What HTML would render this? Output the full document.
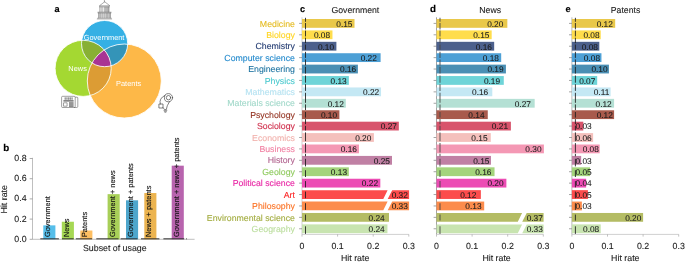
<!DOCTYPE html>
<html><head><meta charset="utf-8"><title>Figure</title>
<style>
html,body{margin:0;padding:0;background:#fff;}
body{width:685px;height:262px;overflow:hidden;}
svg{display:block;font-family:"Liberation Sans",sans-serif;}
.cat{font-size:8.75px;text-anchor:end;}
text{stroke-width:0.1px;paint-order:stroke;text-rendering:geometricPrecision;}
.k{stroke:#1a1a1a;}
.val{font-size:8.3px;stroke:#1a1a1a;stroke-width:0.08px;fill:#1a1a1a;}
.tick{font-size:8.8px;stroke:#1a1a1a;fill:#1a1a1a;text-anchor:middle;}
.ttl{font-size:8.7px;stroke:#1a1a1a;fill:#1a1a1a;text-anchor:middle;}
.pl{font-size:9.2px;font-weight:bold;fill:#000;stroke:#000;stroke-width:0.15px;}
.vn{font-size:7.4px;stroke:none;fill:#fff;text-anchor:middle;}
.rb{font-size:7.45px;fill:#111;stroke:#111;stroke-width:0.12px;}
</style></head><body>
<svg width="685" height="262" viewBox="0 0 685 262">
<rect width="685" height="262" fill="#fff"/>

<text class="pl" x="54.6" y="12.1">a</text>
<defs>
<clipPath id="cg"><circle cx="104.6" cy="43.6" r="23.1"/></clipPath>
<clipPath id="cn"><circle cx="83.15" cy="68.35" r="28.05"/></clipPath>
<clipPath id="cp"><circle cx="124.3" cy="81.0" r="37.0"/></clipPath>
</defs>
<circle cx="124.3" cy="81.0" r="37.0" fill="#fdb848"/>
<circle cx="83.15" cy="68.35" r="28.05" fill="#a4d832"/>
<circle cx="104.6" cy="43.6" r="23.1" fill="#35b0e4"/>
<g clip-path="url(#cg)"><circle cx="83.15" cy="68.35" r="28.05" fill="#88b034"/></g>
<g clip-path="url(#cg)"><circle cx="124.3" cy="81.0" r="37.0" fill="#3494b8"/></g>
<g clip-path="url(#cn)"><circle cx="124.3" cy="81.0" r="37.0" fill="#dc9c34"/></g>
<g clip-path="url(#cg)"><g clip-path="url(#cn)"><circle cx="124.3" cy="81.0" r="37.0" fill="#a83494"/></g></g>
<circle cx="124.3" cy="81.0" r="37.0" fill="none" stroke="#fff" stroke-width="0.85"/>
<circle cx="83.15" cy="68.35" r="28.05" fill="none" stroke="#fff" stroke-width="0.85"/>
<circle cx="104.6" cy="43.6" r="23.1" fill="none" stroke="#fff" stroke-width="0.85"/>
<text class="vn" x="104.1" y="40.2">Government</text>
<text class="vn" x="77.6" y="70.7">News</text>
<text class="vn" x="128.6" y="85.5">Patents</text>
<g fill="none" stroke="#5a5a5a" stroke-width="0.5" stroke-linecap="round" stroke-linejoin="round">
<path d="M104.4 0 V2 M104.4 2 L99.4 5.8 H109.5 Z M99.5 6.8 H109.3 M99.8 6.8 V12 M109 6.8 V12 M98 12.2 H111 M98 12.9 H111 M98.5 13 V18 M110.5 13 V18"/>
<path d="M101.2 7.2 V11.8 M102.8 7.2 V11.8 M104.6 7.2 V11.8 M105.6 7.2 V11.8 M106.6 7.2 V11.8 M107.6 7.2 V11.8 M108.4 7.2 V11.8" stroke-width="0.45"/>
<path d="M99.6 13.4 V17.8 M100.6 13.4 V17.8 M101.9 13.4 V17.8 M102.9 13.4 V17.8 M104.2 13.4 V17.8 M105.2 13.4 V17.8 M106.5 13.4 V17.8 M107.5 13.4 V17.8 M108.7 13.4 V17.8 M109.6 13.4 V17.8" stroke-width="0.45"/>
<path d="M97.4 18.3 H111.5" stroke="#777" stroke-width="0.6"/><path d="M97.2 19.2 H111.7" stroke="#aaa" stroke-width="0.6"/>
</g>
<g fill="none" stroke="#555" stroke-width="0.55" stroke-linejoin="round">
<rect x="61.6" y="96.3" width="13.6" height="11.2" rx="1"/>
<path d="M75.2 97.2 H77 Q77.8 97.2 77.8 98 V106.4 Q77.8 107.5 76.6 107.5 H74"/>
<path d="M64.6 98 H73 M64.6 99.1 H73" stroke="#333" stroke-width="0.7" stroke-dasharray="1.3 0.4"/>
<path d="M63.4 100.9 H73.6" stroke-width="1.1" stroke="#444"/>
<rect x="63.5" y="102.8" width="3.6" height="3.4"/>
<path d="M69 102.6 H73.6 M69 103.6 H73.6 M69 104.6 H73.6 M69 105.6 H73.6 M69 106.5 H73.6" stroke-width="0.6" stroke="#444"/>
</g>
<g fill="none" stroke="#4a4a4a" stroke-width="0.7" stroke-linecap="round" stroke-linejoin="round">
<circle cx="168.5" cy="97.7" r="4.1"/><circle cx="168.5" cy="97.7" r="2.2"/>
<path d="M165.0 95.4 Q158.6 98.4 160.3 104"/>
<rect x="159.3" y="104" width="3.7" height="4"/>
<path d="M163 107.6 L164.6 109.6 H166.3 Q166.6 106 169.4 101.8"/>
<path d="M163.9 110.3 H166.9 M164.3 111.3 H166.5 M164.9 112.3 H165.9" stroke-width="0.8" stroke="#777"/>
</g>
<text class="pl" style="font-size:9.8px" x="3.2" y="151.3">b</text>
<path d="M32.5 157.8 V239.3 H194.6" fill="none" stroke="#a4a4a4" stroke-width="0.7"/>
<path d="M29.7 239.30 H32.5" stroke="#888" stroke-width="0.7"/>
<text x="26.6" y="241.80" font-size="8.8" fill="#1a1a1a" stroke="#1a1a1a" text-anchor="end">0.0</text>
<path d="M29.7 219.10 H32.5" stroke="#888" stroke-width="0.7"/>
<text x="26.6" y="221.60" font-size="8.8" fill="#1a1a1a" stroke="#1a1a1a" text-anchor="end">0.2</text>
<path d="M29.7 198.90 H32.5" stroke="#888" stroke-width="0.7"/>
<text x="26.6" y="201.40" font-size="8.8" fill="#1a1a1a" stroke="#1a1a1a" text-anchor="end">0.4</text>
<path d="M29.7 178.70 H32.5" stroke="#888" stroke-width="0.7"/>
<text x="26.6" y="181.20" font-size="8.8" fill="#1a1a1a" stroke="#1a1a1a" text-anchor="end">0.6</text>
<path d="M29.7 158.50 H32.5" stroke="#888" stroke-width="0.7"/>
<text x="26.6" y="161.00" font-size="8.8" fill="#1a1a1a" stroke="#1a1a1a" text-anchor="end">0.8</text>
<rect x="43.3" y="225.36" width="12.1" height="13.94" fill="#56beea"/>
<rect x="61.8" y="221.73" width="12.1" height="17.57" fill="#a6d854"/>
<rect x="80.3" y="230.51" width="12.1" height="8.79" fill="#fdbe62"/>
<rect x="107.6" y="194.15" width="12.1" height="45.15" fill="#a8cf58"/>
<rect x="126.0" y="200.31" width="12.1" height="38.99" fill="#4ea6cc"/>
<rect x="144.3" y="193.04" width="12.1" height="46.26" fill="#ecb450"/>
<rect x="171.7" y="165.67" width="12.1" height="73.63" fill="#b864ae"/>
<path d="M40.3 238.75 H58.9" stroke="#2a2a2a" stroke-width="1.4" opacity="0.68"/>
<path d="M62 238.75 H73.7" stroke="#2a2a2a" stroke-width="1.4" opacity="0.68"/>
<path d="M75.8 238.75 H92.1" stroke="#2a2a2a" stroke-width="1.4" opacity="0.68"/>
<path d="M96.3 238.75 H118.5" stroke="#2a2a2a" stroke-width="1.4" opacity="0.68"/>
<path d="M120.6 238.75 H137.5" stroke="#2a2a2a" stroke-width="1.4" opacity="0.68"/>
<path d="M141 238.75 H159.4" stroke="#2a2a2a" stroke-width="1.4" opacity="0.68"/>
<path d="M163.4 238.75 H184.2" stroke="#2a2a2a" stroke-width="1.4" opacity="0.68"/>
<path d="M186 238.75 H186.7" stroke="#2a2a2a" stroke-width="1.4" opacity="0.68"/>
<text class="rb" transform="translate(50.35 237.1) rotate(-90)">Government</text>
<text class="rb" transform="translate(68.85 237.1) rotate(-90)">News</text>
<text class="rb" transform="translate(87.35 237.1) rotate(-90)">Patents</text>
<text class="rb" transform="translate(114.65 237.1) rotate(-90)">Government + news</text>
<text class="rb" transform="translate(133.05 237.1) rotate(-90)">Government + patents</text>
<text class="rb" transform="translate(151.35 237.1) rotate(-90)">News + patents</text>
<text class="rb" transform="translate(178.75 237.1) rotate(-90)">Government + news + patents</text>
<text transform="translate(7.2 199.3) rotate(-90)" font-size="8.8" fill="#1a1a1a" stroke="#1a1a1a" text-anchor="middle">Hit rate</text>
<text x="114.8" y="250.8" font-size="8.8" fill="#1a1a1a" stroke="#1a1a1a" text-anchor="middle">Subset of usage</text>
<text class="cat" x="294.9" y="26.55" fill="#e4ba1d" stroke="#e4ba1d">Medicine</text>
<text class="cat" x="294.9" y="37.96" fill="#ffd41f" stroke="#ffd41f">Biology</text>
<text class="cat" x="294.9" y="49.37" fill="#1f386f" stroke="#1f386f">Chemistry</text>
<text class="cat" x="294.9" y="60.78" fill="#2088cc" stroke="#2088cc">Computer science</text>
<text class="cat" x="294.9" y="72.19" fill="#1d73a1" stroke="#1d73a1">Engineering</text>
<text class="cat" x="294.9" y="83.60" fill="#4ac9ce" stroke="#4ac9ce">Physics</text>
<text class="cat" x="294.9" y="95.01" fill="#b5e2f1" stroke="#b5e2f1">Mathematics</text>
<text class="cat" x="294.9" y="106.42" fill="#a1d8c9" stroke="#a1d8c9">Materials science</text>
<text class="cat" x="294.9" y="117.83" fill="#92311f" stroke="#92311f">Psychology</text>
<text class="cat" x="294.9" y="129.24" fill="#ce2947" stroke="#ce2947">Sociology</text>
<text class="cat" x="294.9" y="140.65" fill="#f1b0ab" stroke="#f1b0ab">Economics</text>
<text class="cat" x="294.9" y="152.06" fill="#f17ea1" stroke="#f17ea1">Business</text>
<text class="cat" x="294.9" y="163.47" fill="#b0608d" stroke="#b0608d">History</text>
<text class="cat" x="294.9" y="174.88" fill="#8dc95b" stroke="#8dc95b">Geology</text>
<text class="cat" x="294.9" y="186.29" fill="#e71fa1" stroke="#e71fa1">Political science</text>
<text class="cat" x="294.9" y="197.70" fill="#fb1f1f" stroke="#fb1f1f">Art</text>
<text class="cat" x="294.9" y="209.11" fill="#fb6f1f" stroke="#fb6f1f">Philosophy</text>
<text class="cat" x="294.9" y="220.52" fill="#a1ab3d" stroke="#a1ab3d">Environmental science</text>
<text class="cat" x="294.9" y="231.93" fill="#badd9c" stroke="#badd9c">Geography</text>
<text class="pl"  x="299.9" y="12">c</text>
<text class="ttl" x="355.4" y="13">Government</text>
<path d="M302.0 17.3 V234.4" fill="none" stroke="#c4c4c4" stroke-width="0.8"/>
<path d="M302.0 234.4 H408.80" fill="none" stroke="#c4c4c4" stroke-width="0.8"/>
<path d="M302.00 234.4 V236.6" stroke="#999" stroke-width="0.6"/>
<text class="tick" x="302.00" y="248.5">0</text>
<path d="M337.60 234.4 V236.6" stroke="#999" stroke-width="0.6"/>
<text class="tick" x="337.60" y="248.5">0.1</text>
<path d="M373.20 234.4 V236.6" stroke="#999" stroke-width="0.6"/>
<text class="tick" x="373.20" y="248.5">0.2</text>
<path d="M408.80 234.4 V236.6" stroke="#999" stroke-width="0.6"/>
<text class="tick" x="408.80" y="248.5">0.3</text>
<text class="tick" x="355.15" y="261.3">Hit rate</text>
<path d="M299.10 23.40 H302.0" stroke="#666" stroke-width="0.6"/>
<rect x="302.0" y="19.00" width="52.51" height="8.8" fill="#e9c84a"/>
<text class="val" x="352.45" y="26.70" text-anchor="end">0.15</text>
<path d="M299.10 34.81 H302.0" stroke="#666" stroke-width="0.6"/>
<rect x="302.0" y="30.41" width="30.47" height="8.8" fill="#ffdd4c"/>
<text class="val" x="330.10" y="38.11" text-anchor="end">0.08</text>
<path d="M299.10 46.22 H302.0" stroke="#666" stroke-width="0.6"/>
<rect x="302.0" y="41.82" width="34.39" height="8.8" fill="#4c608c"/>
<text class="val" x="334.10" y="49.52" text-anchor="end">0.10</text>
<path d="M299.10 57.63 H302.0" stroke="#666" stroke-width="0.6"/>
<rect x="302.0" y="53.23" width="78.60" height="8.8" fill="#4da0d6"/>
<text class="val" x="376.80" y="60.93" text-anchor="end">0.22</text>
<path d="M299.10 69.04 H302.0" stroke="#666" stroke-width="0.6"/>
<rect x="302.0" y="64.64" width="55.89" height="8.8" fill="#4a8fb4"/>
<text class="val" x="356.20" y="72.34" text-anchor="end">0.16</text>
<path d="M299.10 80.45 H302.0" stroke="#666" stroke-width="0.6"/>
<rect x="302.0" y="76.05" width="46.85" height="8.8" fill="#6ed4d8"/>
<text class="val" x="346.70" y="83.75" text-anchor="end">0.13</text>
<path d="M299.10 91.86 H302.0" stroke="#666" stroke-width="0.6"/>
<rect x="302.0" y="87.46" width="79.03" height="8.8" fill="#c4e8f4"/>
<text class="val" x="379.20" y="95.16" text-anchor="end">0.22</text>
<path d="M299.10 103.27 H302.0" stroke="#666" stroke-width="0.6"/>
<rect x="302.0" y="98.87" width="43.79" height="8.8" fill="#b4e0d4"/>
<text class="val" x="343.80" y="106.57" text-anchor="end">0.12</text>
<path d="M299.10 114.68 H302.0" stroke="#666" stroke-width="0.6"/>
<rect x="302.0" y="110.28" width="37.38" height="8.8" fill="#a85a4c"/>
<text class="val" x="337.10" y="117.98" text-anchor="end">0.10</text>
<path d="M299.10 126.09 H302.0" stroke="#666" stroke-width="0.6"/>
<rect x="302.0" y="121.69" width="96.83" height="8.8" fill="#d8546c"/>
<text class="val" x="396.90" y="129.39" text-anchor="end">0.27</text>
<path d="M299.10 137.50 H302.0" stroke="#666" stroke-width="0.6"/>
<rect x="302.0" y="133.10" width="71.91" height="8.8" fill="#f4c0bc"/>
<text class="val" x="371.30" y="140.80" text-anchor="end">0.20</text>
<path d="M299.10 148.91 H302.0" stroke="#666" stroke-width="0.6"/>
<rect x="302.0" y="144.51" width="56.96" height="8.8" fill="#f498b4"/>
<text class="val" x="356.90" y="152.21" text-anchor="end">0.16</text>
<path d="M299.10 160.32 H302.0" stroke="#666" stroke-width="0.6"/>
<rect x="302.0" y="155.92" width="90.00" height="8.8" fill="#c080a4"/>
<text class="val" x="389.90" y="163.62" text-anchor="end">0.25</text>
<path d="M299.10 171.73 H302.0" stroke="#666" stroke-width="0.6"/>
<rect x="302.0" y="167.33" width="46.85" height="8.8" fill="#a4d47c"/>
<text class="val" x="347.00" y="175.03" text-anchor="end">0.13</text>
<path d="M299.10 183.14 H302.0" stroke="#666" stroke-width="0.6"/>
<rect x="302.0" y="178.74" width="78.32" height="8.8" fill="#ec4cb4"/>
<text class="val" x="378.00" y="186.44" text-anchor="end">0.22</text>
<path d="M299.10 194.55 H302.0" stroke="#666" stroke-width="0.6"/>
<path d="M302.0 190.15 H387.60 L383.30 198.95 H302.0 Z M392.20 190.15 H409.10 V198.95 H387.70 Z" fill="#fc4c4c"/>
<text class="val" x="407.80" y="197.85" text-anchor="end">0.32</text>
<path d="M299.10 205.96 H302.0" stroke="#666" stroke-width="0.6"/>
<path d="M302.0 201.56 H387.60 L383.30 210.36 H302.0 Z M392.20 201.56 H409.10 V210.36 H387.70 Z" fill="#fc8c4c"/>
<text class="val" x="407.80" y="209.26" text-anchor="end">0.33</text>
<path d="M299.10 217.37 H302.0" stroke="#666" stroke-width="0.6"/>
<rect x="302.0" y="212.97" width="87.01" height="8.8" fill="#b4bc64"/>
<text class="val" x="384.70" y="220.67" text-anchor="end">0.24</text>
<path d="M299.10 228.78 H302.0" stroke="#666" stroke-width="0.6"/>
<rect x="302.0" y="224.38" width="85.44" height="8.8" fill="#c8e4b0"/>
<text class="val" x="384.70" y="232.08" text-anchor="end">0.24</text>
<path d="M305.50 17.8 V21.8 M305.50 23 V29.4 M305.50 30.6 V36.4 M305.50 37.7 V43.2 M305.50 44.5 V49.7 M305.50 51.8 V57.9 M305.50 59.4 V65.4 M305.50 66.7 V73.6 M305.50 75.5 V82.7 M305.50 84.2 V90.9 M305.50 92.8 V102.8 M305.50 104.4 V110.1 M305.50 112 V117.6 M305.50 119.1 V124.2 M305.50 125.8 V130.5 M305.50 132.4 V141.2 M305.50 143.1 V152.6 M305.50 153.8 V156.3 M305.50 158.8 V166.4 M305.50 170.2 V177 M305.50 181.1 V187.4 M305.50 191.6 V198.2 M305.50 203.2 V209.9 M305.50 214.6 V220.6 M305.50 226.3 V233.9" stroke="#1a1a1a" stroke-width="0.85"/>
<text class="pl" style="font-size:9.8px" x="430.0" y="12">d</text>
<text class="ttl" x="490.2" y="13">News</text>
<path d="M436.5 17.3 V234.4" fill="none" stroke="#8c8c8c" stroke-width="0.8"/>
<path d="M436.5 234.4 H543.30" fill="none" stroke="#c4c4c4" stroke-width="0.8"/>
<path d="M436.50 234.4 V236.6" stroke="#999" stroke-width="0.6"/>
<text class="tick" x="436.50" y="248.5">0</text>
<path d="M472.10 234.4 V236.6" stroke="#999" stroke-width="0.6"/>
<text class="tick" x="472.10" y="248.5">0.1</text>
<path d="M507.70 234.4 V236.6" stroke="#999" stroke-width="0.6"/>
<text class="tick" x="507.70" y="248.5">0.2</text>
<path d="M543.30 234.4 V236.6" stroke="#999" stroke-width="0.6"/>
<text class="tick" x="543.30" y="248.5">0.3</text>
<text class="tick" x="496.60" y="261.3">Hit rate</text>
<path d="M433.60 23.40 H436.5" stroke="#666" stroke-width="0.6"/>
<rect x="436.5" y="19.00" width="70.84" height="8.8" fill="#e9c84a"/>
<text class="val" x="503.30" y="26.70" text-anchor="end">0.20</text>
<path d="M433.60 34.81 H436.5" stroke="#666" stroke-width="0.6"/>
<rect x="436.5" y="30.41" width="55.18" height="8.8" fill="#ffdd4c"/>
<text class="val" x="489.40" y="38.11" text-anchor="end">0.15</text>
<path d="M433.60 46.22 H436.5" stroke="#666" stroke-width="0.6"/>
<rect x="436.5" y="41.82" width="57.67" height="8.8" fill="#4c608c"/>
<text class="val" x="491.90" y="49.52" text-anchor="end">0.16</text>
<path d="M433.60 57.63 H436.5" stroke="#666" stroke-width="0.6"/>
<rect x="436.5" y="53.23" width="64.69" height="8.8" fill="#4da0d6"/>
<text class="val" x="498.90" y="60.93" text-anchor="end">0.18</text>
<path d="M433.60 69.04 H436.5" stroke="#666" stroke-width="0.6"/>
<rect x="436.5" y="64.64" width="69.42" height="8.8" fill="#4a8fb4"/>
<text class="val" x="503.60" y="72.34" text-anchor="end">0.19</text>
<path d="M433.60 80.45 H436.5" stroke="#666" stroke-width="0.6"/>
<rect x="436.5" y="76.05" width="67.28" height="8.8" fill="#6ed4d8"/>
<text class="val" x="500.10" y="83.75" text-anchor="end">0.19</text>
<path d="M433.60 91.86 H436.5" stroke="#666" stroke-width="0.6"/>
<rect x="436.5" y="87.46" width="55.79" height="8.8" fill="#c4e8f4"/>
<text class="val" x="488.20" y="95.16" text-anchor="end">0.16</text>
<path d="M433.60 103.27 H436.5" stroke="#666" stroke-width="0.6"/>
<rect x="436.5" y="98.87" width="98.18" height="8.8" fill="#b4e0d4"/>
<text class="val" x="530.90" y="106.57" text-anchor="end">0.27</text>
<path d="M433.60 114.68 H436.5" stroke="#666" stroke-width="0.6"/>
<rect x="436.5" y="110.28" width="51.26" height="8.8" fill="#a85a4c"/>
<text class="val" x="484.50" y="117.98" text-anchor="end">0.14</text>
<path d="M433.60 126.09 H436.5" stroke="#666" stroke-width="0.6"/>
<rect x="436.5" y="121.69" width="74.40" height="8.8" fill="#d8546c"/>
<text class="val" x="508.00" y="129.39" text-anchor="end">0.21</text>
<path d="M433.60 137.50 H436.5" stroke="#666" stroke-width="0.6"/>
<rect x="436.5" y="133.10" width="54.29" height="8.8" fill="#f4c0bc"/>
<text class="val" x="487.50" y="140.80" text-anchor="end">0.15</text>
<path d="M433.60 148.91 H436.5" stroke="#666" stroke-width="0.6"/>
<rect x="436.5" y="144.51" width="107.41" height="8.8" fill="#f498b4"/>
<text class="val" x="541.50" y="152.21" text-anchor="end">0.30</text>
<path d="M433.60 160.32 H436.5" stroke="#666" stroke-width="0.6"/>
<rect x="436.5" y="155.92" width="54.47" height="8.8" fill="#c080a4"/>
<text class="val" x="489.40" y="163.62" text-anchor="end">0.15</text>
<path d="M433.60 171.73 H436.5" stroke="#666" stroke-width="0.6"/>
<rect x="436.5" y="167.33" width="58.03" height="8.8" fill="#a4d47c"/>
<text class="val" x="491.40" y="175.03" text-anchor="end">0.16</text>
<path d="M433.60 183.14 H436.5" stroke="#666" stroke-width="0.6"/>
<rect x="436.5" y="178.74" width="69.88" height="8.8" fill="#ec4cb4"/>
<text class="val" x="503.60" y="186.44" text-anchor="end">0.20</text>
<path d="M433.60 194.55 H436.5" stroke="#666" stroke-width="0.6"/>
<rect x="436.5" y="190.15" width="44.36" height="8.8" fill="#fc4c4c"/>
<text class="val" x="476.30" y="197.85" text-anchor="end">0.12</text>
<path d="M433.60 205.96 H436.5" stroke="#666" stroke-width="0.6"/>
<rect x="436.5" y="201.56" width="47.70" height="8.8" fill="#fc8c4c"/>
<text class="val" x="481.50" y="209.26" text-anchor="end">0.13</text>
<path d="M433.60 217.37 H436.5" stroke="#666" stroke-width="0.6"/>
<path d="M436.5 212.97 H522.10 L517.80 221.77 H436.5 Z M526.70 212.97 H543.60 V221.77 H522.20 Z" fill="#b4bc64"/>
<text class="val" x="542.80" y="220.67" text-anchor="end">0.37</text>
<path d="M433.60 228.78 H436.5" stroke="#666" stroke-width="0.6"/>
<path d="M436.5 224.38 H522.10 L517.80 233.18 H436.5 Z M526.70 224.38 H543.60 V233.18 H522.20 Z" fill="#c8e4b0"/>
<text class="val" x="542.80" y="232.08" text-anchor="end">0.33</text>
<path d="M440.00 17.8 V21.8 M440.00 23 V29.4 M440.00 30.6 V36.4 M440.00 37.7 V43.2 M440.00 44.5 V49.7 M440.00 51.8 V57.9 M440.00 59.4 V65.4 M440.00 66.7 V73.6 M440.00 75.5 V82.7 M440.00 84.2 V90.9 M440.00 92.8 V102.8 M440.00 104.4 V110.1 M440.00 112 V117.6 M440.00 119.1 V124.2 M440.00 125.8 V130.5 M440.00 132.4 V141.2 M440.00 143.1 V152.6 M440.00 153.8 V156.3 M440.00 158.8 V166.4 M440.00 170.2 V177 M440.00 181.1 V187.4 M440.00 191.6 V198.2 M440.00 203.2 V209.9 M440.00 214.6 V220.6 M440.00 226.3 V233.9" stroke="#444" stroke-width="1.25" opacity="0.7"/>
<text class="pl"  x="565.4" y="12">e</text>
<text class="ttl" x="625.5" y="13">Patents</text>
<path d="M571.9 17.3 V234.4" fill="none" stroke="#a8a8a8" stroke-width="0.8"/>
<path d="M571.9 234.4 H678.70" fill="none" stroke="#c4c4c4" stroke-width="0.8"/>
<path d="M571.90 234.4 V236.6" stroke="#999" stroke-width="0.6"/>
<text class="tick" x="571.90" y="248.5">0</text>
<path d="M607.50 234.4 V236.6" stroke="#999" stroke-width="0.6"/>
<text class="tick" x="607.50" y="248.5">0.1</text>
<path d="M643.10 234.4 V236.6" stroke="#999" stroke-width="0.6"/>
<text class="tick" x="643.10" y="248.5">0.2</text>
<path d="M678.70 234.4 V236.6" stroke="#999" stroke-width="0.6"/>
<text class="tick" x="678.70" y="248.5">0.3</text>
<text class="tick" x="625.30" y="261.3">Hit rate</text>
<path d="M569.00 23.40 H571.9" stroke="#666" stroke-width="0.6"/>
<rect x="571.9" y="19.00" width="43.29" height="8.8" fill="#e9c84a"/>
<text class="val" x="612.80" y="26.70" text-anchor="end">0.12</text>
<path d="M569.00 34.81 H571.9" stroke="#666" stroke-width="0.6"/>
<rect x="571.9" y="30.41" width="28.84" height="8.8" fill="#ffdd4c"/>
<text class="val" x="599.60" y="38.11" text-anchor="end">0.08</text>
<path d="M569.00 46.22 H571.9" stroke="#666" stroke-width="0.6"/>
<rect x="571.9" y="41.82" width="27.41" height="8.8" fill="#4c608c"/>
<text class="val" x="597.90" y="49.52" text-anchor="end">0.08</text>
<path d="M569.00 57.63 H571.9" stroke="#666" stroke-width="0.6"/>
<rect x="571.9" y="53.23" width="29.55" height="8.8" fill="#4da0d6"/>
<text class="val" x="600.00" y="60.93" text-anchor="end">0.08</text>
<path d="M569.00 69.04 H571.9" stroke="#666" stroke-width="0.6"/>
<rect x="571.9" y="64.64" width="37.02" height="8.8" fill="#4a8fb4"/>
<text class="val" x="607.60" y="72.34" text-anchor="end">0.10</text>
<path d="M569.00 80.45 H571.9" stroke="#666" stroke-width="0.6"/>
<rect x="571.9" y="76.05" width="25.28" height="8.8" fill="#6ed4d8"/>
<text class="val" x="595.30" y="83.75" text-anchor="end">0.07</text>
<path d="M569.00 91.86 H571.9" stroke="#666" stroke-width="0.6"/>
<rect x="571.9" y="87.46" width="38.70" height="8.8" fill="#c4e8f4"/>
<text class="val" x="609.30" y="95.16" text-anchor="end">0.11</text>
<path d="M569.00 103.27 H571.9" stroke="#666" stroke-width="0.6"/>
<rect x="571.9" y="98.87" width="42.19" height="8.8" fill="#b4e0d4"/>
<text class="val" x="611.70" y="106.57" text-anchor="end">0.12</text>
<path d="M569.00 114.68 H571.9" stroke="#666" stroke-width="0.6"/>
<rect x="571.9" y="110.28" width="42.19" height="8.8" fill="#a85a4c"/>
<text class="val" x="612.80" y="117.98" text-anchor="end">0.12</text>
<path d="M569.00 126.09 H571.9" stroke="#666" stroke-width="0.6"/>
<rect x="571.9" y="121.69" width="11.39" height="8.8" fill="#d8546c"/>
<text class="val" x="575.50" y="129.39">0.03</text>
<path d="M569.00 137.50 H571.9" stroke="#666" stroke-width="0.6"/>
<rect x="571.9" y="133.10" width="21.22" height="8.8" fill="#f4c0bc"/>
<text class="val" x="575.50" y="140.80">0.06</text>
<path d="M569.00 148.91 H571.9" stroke="#666" stroke-width="0.6"/>
<rect x="571.9" y="144.51" width="27.77" height="8.8" fill="#f498b4"/>
<text class="val" x="598.80" y="152.21" text-anchor="end">0.08</text>
<path d="M569.00 160.32 H571.9" stroke="#666" stroke-width="0.6"/>
<rect x="571.9" y="155.92" width="9.26" height="8.8" fill="#c080a4"/>
<text class="val" x="575.50" y="163.62">0.03</text>
<path d="M569.00 171.73 H571.9" stroke="#666" stroke-width="0.6"/>
<rect x="571.9" y="167.33" width="18.16" height="8.8" fill="#a4d47c"/>
<text class="val" x="575.50" y="175.03">0.05</text>
<path d="M569.00 183.14 H571.9" stroke="#666" stroke-width="0.6"/>
<rect x="571.9" y="178.74" width="14.24" height="8.8" fill="#ec4cb4"/>
<text class="val" x="575.50" y="186.44">0.04</text>
<path d="M569.00 194.55 H571.9" stroke="#666" stroke-width="0.6"/>
<rect x="571.9" y="190.15" width="16.02" height="8.8" fill="#fc4c4c"/>
<text class="val" x="575.50" y="197.85">0.05</text>
<path d="M569.00 205.96 H571.9" stroke="#666" stroke-width="0.6"/>
<rect x="571.9" y="201.56" width="9.97" height="8.8" fill="#fc8c4c"/>
<text class="val" x="575.50" y="209.26">0.03</text>
<path d="M569.00 217.37 H571.9" stroke="#666" stroke-width="0.6"/>
<rect x="571.9" y="212.97" width="71.20" height="8.8" fill="#b4bc64"/>
<text class="val" x="641.30" y="220.67" text-anchor="end">0.20</text>
<path d="M569.00 228.78 H571.9" stroke="#666" stroke-width="0.6"/>
<rect x="571.9" y="224.38" width="28.84" height="8.8" fill="#c8e4b0"/>
<text class="val" x="599.20" y="232.08" text-anchor="end">0.08</text>
<path d="M575.40 17.8 V21.8 M575.40 23 V29.4 M575.40 30.6 V36.4 M575.40 37.7 V43.2 M575.40 44.5 V49.7 M575.40 51.8 V57.9 M575.40 59.4 V65.4 M575.40 66.7 V73.6 M575.40 75.5 V82.7 M575.40 84.2 V90.9 M575.40 92.8 V102.8 M575.40 104.4 V110.1 M575.40 112 V117.6 M575.40 119.1 V124.2 M575.40 125.8 V130.5 M575.40 132.4 V141.2 M575.40 143.1 V152.6 M575.40 153.8 V156.3 M575.40 158.8 V166.4 M575.40 170.2 V177 M575.40 181.1 V187.4 M575.40 191.6 V198.2 M575.40 203.2 V209.9 M575.40 214.6 V220.6 M575.40 226.3 V233.9" stroke="#1a1a1a" stroke-width="0.85"/>
</svg></body></html>
